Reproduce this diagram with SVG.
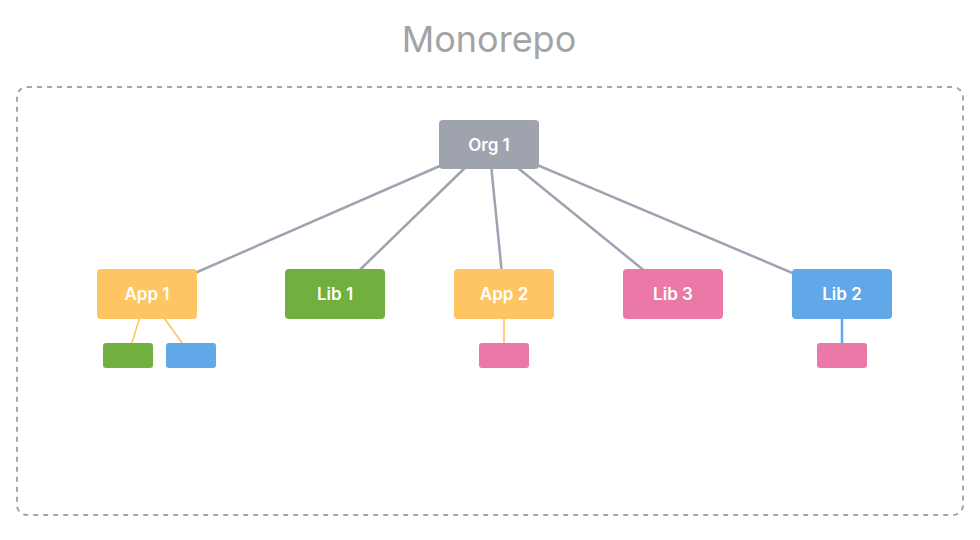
<svg xmlns="http://www.w3.org/2000/svg" width="980" height="540" viewBox="0 0 980 540">
<style>
.lbl{font-family:Inter,"Liberation Sans",sans-serif;font-size:17px;font-weight:600;fill:#ffffff;text-anchor:middle}
.e{stroke:#9ea3b0;stroke-width:2.5;fill:none}
.ey{stroke:#ffc562;stroke-width:1.6;fill:none}
.eb{stroke:#60a8e8;stroke-width:2.5;fill:none}
</style>
<rect width="980" height="540" fill="#ffffff"/>
<text x="489" y="52" font-family="Inter,'Liberation Sans',sans-serif" font-size="36" fill="#a3a3a3" text-anchor="middle">Monorepo</text>
<rect x="17" y="87" width="946" height="428" rx="10" fill="none" stroke="#a3a6af" stroke-width="2" stroke-dasharray="5,5"/>
<g id="connectors">
<line class="e" x1="489" y1="144.5" x2="147" y2="294"/>
<line class="e" x1="489" y1="144.5" x2="335" y2="294"/>
<line class="e" x1="489" y1="144.5" x2="504" y2="294"/>
<line class="e" x1="489" y1="144.5" x2="673" y2="294"/>
<line class="e" x1="489" y1="144.5" x2="842" y2="294"/>
<line class="ey" x1="147" y1="294" x2="128" y2="355.5"/>
<line class="ey" x1="147" y1="294" x2="191" y2="355.5"/>
<line class="ey" x1="504" y1="294" x2="504" y2="355.5"/>
<line class="eb" x1="842" y1="294" x2="842" y2="355.5"/>
</g>
<g id="org1"><rect x="439" y="120" width="100" height="49" rx="4" fill="#9ea3ae"/><text class="lbl" x="489" y="150.5">Org 1</text></g>
<g id="app1"><rect x="97" y="269" width="100" height="50" rx="4" fill="#ffc562"/><text class="lbl" x="147" y="300">App 1</text></g>
<g id="lib1"><rect x="285" y="269" width="100" height="50" rx="4" fill="#71b03f"/><text class="lbl" x="335" y="300">Lib 1</text></g>
<g id="app2"><rect x="454" y="269" width="100" height="50" rx="4" fill="#ffc562"/><text class="lbl" x="504" y="300">App 2</text></g>
<g id="lib3"><rect x="623" y="269" width="100" height="50" rx="4" fill="#ea79a8"/><text class="lbl" x="673" y="300">Lib 3</text></g>
<g id="lib2"><rect x="792" y="269" width="100" height="50" rx="4" fill="#60a8e8"/><text class="lbl" x="842" y="300">Lib 2</text></g>
<g id="app1-lib1"><rect x="103" y="343" width="50" height="25" rx="3" fill="#71b03f"/></g>
<g id="app1-lib2"><rect x="166" y="343" width="50" height="25" rx="3" fill="#60a8e8"/></g>
<g id="app2-lib3"><rect x="479" y="343" width="50" height="25" rx="3" fill="#ea79a8"/></g>
<g id="lib2-lib3"><rect x="817" y="343" width="50" height="25" rx="3" fill="#ea79a8"/></g>
</svg>
